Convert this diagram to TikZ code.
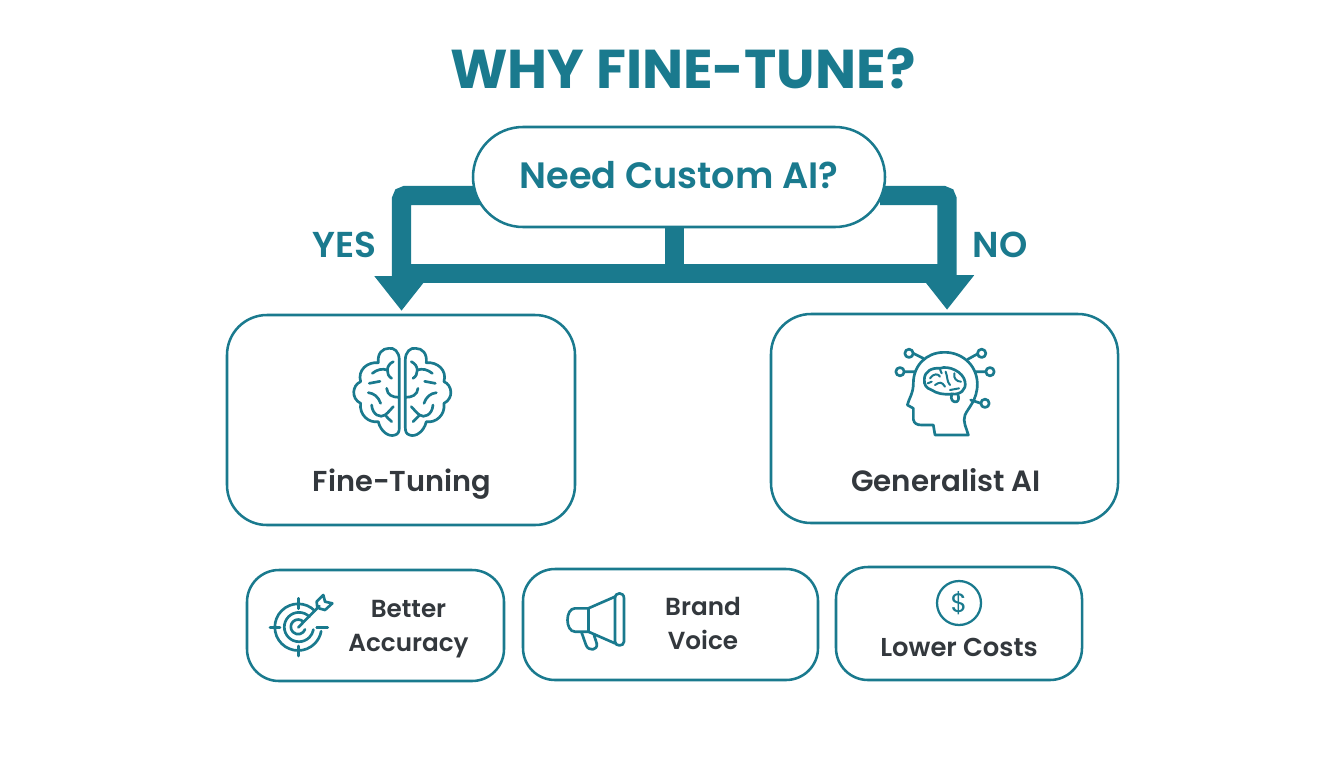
\documentclass[tikz,border=0pt]{standalone}
\usepackage{fontspec}
\setmainfont{Poppins}[BoldFont={Poppins SemiBold}]
\newfontfamily\heavy{Poppins Bold}
\usetikzlibrary{arrows.meta,backgrounds}
\definecolor{teal}{HTML}{1A7A8E}
\definecolor{ink}{HTML}{33383D}
\tikzset{
  x=.75pt,y=-.75pt,
  frame/.style n args={3}{draw=teal,line width=1.9pt,fill=white,rounded corners=#1,
     minimum width=#2*.75pt,minimum height=#3*.75pt,inner sep=0pt,rectangle},
  pipe/.style={draw=teal,line width=14.4pt},
  head/.style={-{Triangle[length=26pt,width=39pt]}},
  ico/.style={draw=teal,line width=2pt,line cap=round,line join=round},
  lab/.style={text=ink,font=\bfseries\fontsize{#1}{24}\selectfont,align=center},
  lab2/.style={text=ink,font=\bfseries\fontsize{18.5}{25}\selectfont,align=center},
  tl/.style={text=teal,font=\bfseries\fontsize{#1}{#1}\selectfont},
}
\newcommand\brainhalf{%
  (-9,60) .. controls (-9,35) and (-25,22) .. (-40,25) .. controls (-60,25) and (-75,40) .. (-72,68)
  .. controls (-105,65) and (-135,90) .. (-125,125) .. controls (-150,135) and (-155,175) .. (-125,190)
  .. controls (-130,225) and (-100,250) .. (-72,245) .. controls (-65,275) and (-40,292) .. (-22,285)
  .. controls (-12,282) and (-9,275) .. (-9,262) -- cycle
  (-27,65) .. controls (-50,75) and (-50,105) .. (-32,115)
  (-45,90) .. controls (-60,85) and (-75,88) .. (-90,100)
  (-99,130) -- (-67,124)
  (-102,158) .. controls (-85,160) and (-72,170) .. (-65,190)
  (-47,145) .. controls (-45,165) and (-30,172) .. (-9,172)
  (-92,195) .. controls (-90,225) and (-65,235) .. (-52,225) .. controls (-42,218) and (-35,208) .. (-27,200)
  (-52,225) .. controls (-45,232) and (-38,240) .. (-32,245)
}
\begin{document}
\begin{tikzpicture}
\useasboundingbox (0,0) rectangle (1344,768);
\begin{scope}[on background layer]
\fill[white] (0,0) rectangle (1344,768);
\end{scope}

\node[text=teal,font=\heavy\fontsize{41}{41}\selectfont] (title) at (683,68) {WHY FINE-TUNE?};

% boxes
\node[frame={37.5pt}{412}{100}] (q) at (679,177) {};
\node[frame={30pt}{348}{210}] (boxL) at (401,420) {};
\node[frame={30pt}{347}{209}] (boxR) at (944.5,418.5) {};
\node[frame={24pt}{257}{111}] (acc) at (375.5,625.5) {};
\node[frame={24pt}{295}{111}] (brand) at (670.5,624.5) {};
\node[frame={24pt}{246}{113}] (cost) at (959,623.5) {};

% connectors, behind the boxes
\coordinate (qL) at (480,195.5);
\coordinate (qR) at (880,195.5);
\coordinate (tipL) at ([xshift=.4pt,yshift=2.2pt]boxL.north);
\coordinate (tipR) at ([xshift=1.9pt,yshift=2.2pt]boxR.north);
\coordinate (barL) at (402,273.8);
\coordinate (barR) at (947,273.8);
\coordinate (stemE) at (674.5,273.8);
\begin{scope}[on background layer]
\draw[pipe,head,rounded corners=3pt] (qL) -| (tipL);
\draw[pipe,head,rounded corners=3pt] (qR) -| (tipR);
\draw[pipe] (barL) -- (barR);
\draw[pipe] (stemE |- q.south) -- (stemE);
\end{scope}

% texts
\node[tl=27.5] (need) at (679,175) {Need Custom AI?};
\node[tl=27] (yes) at (344.5,245) {YES};
\node[tl=27] (no) at (1000,245) {NO};
\node[lab=21.6] (fine) at (402,484) {Fine-Tuning};
\node[lab=22] (gen) at (946,480) {Generalist AI};
\node[lab2] (acct) at (408.5,629) {Better\\Accuracy};
\node[lab2] (brandt) at (703,623.5) {Brand\\Voice};
\node[lab=19.4] (costt) at (959,647) {Lower Costs};

% brain icon
\begin{scope}[shift={(402.3,340)},x=.25pt,y=-.25pt]
  \draw[ico] \brainhalf;
  \begin{scope}[xscale=-1]
    \draw[ico] \brainhalf;
  \end{scope}
\end{scope}

% head icon
\begin{scope}[shift={(885,340)},x=.25pt,y=-.25pt]
  \draw[ico] (150,285) -- (250,285) .. controls (245,265) and (232,245) .. (240,225)
    .. controls (248,205) and (278,180) .. (277,130)
    .. controls (275,70) and (225,35) .. (175,37)
    .. controls (125,38) and (85,75) .. (85,130)
    .. controls (85,160) and (72,175) .. (67,195)
    -- (85,205) -- (85,238) .. controls (87,250) and (95,255) .. (110,255)
    -- (145,255) -- cycle;
  \foreach \cx/\cy in {72/40,290/40,45/95,315/95,300/190}
    \draw[ico] (\cx,\cy) circle (12.5);
  \draw[ico] (85,40) -- (115,55) (277,42) -- (248,58) (58,95) -- (88,95)
    (302,95) -- (272,95) (288,190) -- (257,180);
  \draw[ico] (118,118) .. controls (118,95) and (140,82) .. (165,85)
    .. controls (190,75) and (235,95) .. (240,125)
    .. controls (245,150) and (225,165) .. (200,162)
    .. controls (175,165) and (155,160) .. (140,150)
    .. controls (125,145) and (116,135) .. (118,118) -- cycle;
  \draw[ico] (200,162) .. controls (195,180) and (205,188) .. (215,185)
    .. controls (222,182) and (222,172) .. (218,162);
  \draw[ico,line width=1.5pt] (135,115) .. controls (145,100) and (160,100) .. (165,110)
    (150,135) .. controls (165,125) and (170,125) .. (180,140)
    (182,95) .. controls (188,110) and (185,125) .. (195,135)
    (208,100) .. controls (205,115) and (215,125) .. (228,125)
    (195,150) -- (222,145)
    (140,125) -- (128,130)
    (165,88) -- (170,100);
\end{scope}

% target icon
\begin{scope}[shift={(260,580)},x=.25pt,y=-.25pt]
  \draw[ico] (164,92) arc[start angle=-45,end angle=-350,radius=70];
  \draw[ico] (148,110) arc[start angle=-45,end angle=-350,radius=44];
  \draw[ico] (130,125) arc[start angle=-45,end angle=-340,radius=22];
  \draw[ico] (115,55) -- (115,86) (115,198) -- (115,228) (30,142) -- (60,142) (170,142) -- (203,142);
  \draw[ico] (115,142) -- (178,78);
  \draw[ico] (172,84) -- (170,65) -- (190,45) -- (195,65) -- (217,70) -- (195,90) -- (177,85);
\end{scope}

% megaphone icon
\begin{scope}[shift={(260,580)},x=.25pt,y=-.25pt]
  \draw[ico] (985,85) -- (945,85) .. controls (915,85) and (915,155) .. (945,155) -- (985,155);
  \draw[ico] (985,85) -- (985,155);
  \draw[ico] (985,85) -- (1065,50) (985,155) -- (1065,190);
  \draw[ico] (1065,55) .. controls (1065,35) and (1092,35) .. (1092,55) -- (1092,185)
    .. controls (1092,200) and (1065,200) .. (1065,185) -- cycle;
  \draw[ico] (965,158) -- (978,195) .. controls (985,215) and (1015,212) .. (1010,190) -- (1002,165);
\end{scope}

% dollar icon
\draw[ico,line width=1.7pt] (959,603) circle (22);
\node[text=teal,font=\fontsize{20}{20}\selectfont] (dollar) at (959,603) {\$};
\end{tikzpicture}
\end{document}
